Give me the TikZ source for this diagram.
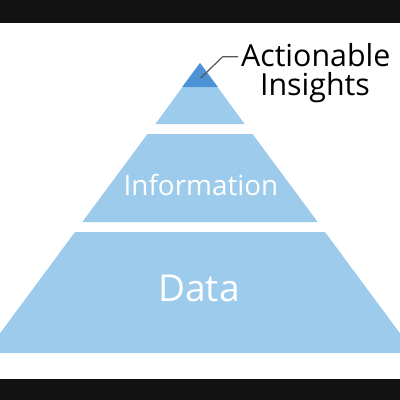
\documentclass[tikz,border=0pt]{standalone}
\usepackage{fontspec}
\setmainfont{Open Sans}
\usetikzlibrary{positioning,calc}

\definecolor{tierblue}{RGB}{157,203,235}
\definecolor{tipblue}{RGB}{76,146,212}
\definecolor{leadergray}{RGB}{85,85,85}

\begin{document}
\begin{tikzpicture}[
		x=0.25mm, y=-0.25mm,
		tier/.style={fill=tierblue},
		tip_tier/.style={fill=tipblue},
		bar/.style={fill=black!93},
		tier_label/.style={text=white, inner sep=0pt, anchor=base},
		callout/.style={text=black, inner sep=0pt, font=\fontsize{21.6}{24}\selectfont},
		leader/.style={draw=leadergray, line width=0.3mm}
		]
		
		\useasboundingbox (0,0) rectangle (400,400);
		
		% --- FRAME (black bars top and bottom) ---
		\fill[bar] (0,0) rectangle (400,23);
		\fill[bar] (0,379) rectangle (400,400);
		
		% --- PYRAMID TIERS (apex at 200,63, half width 0.74 per px of height) ---
		\begin{scope}
			\clip (0,23) rectangle (400,379);
			% 1. Top tier with dark tip
			\fill[tier] (200,63) -- (155.4,124) -- (244.6,124) -- cycle;
			\fill[tip_tier] (200,63) -- (182.2,87) -- (217.8,87) -- cycle;
			% 2. Middle tier
			\fill[tier] (147.5,134) -- (252.5,134) -- (317.7,222) -- (82.3,222) -- cycle;
			% 3. Bottom tier
			\fill[tier] (75,232) -- (325,232) -- (414.5,353) -- (-14.5,353) -- cycle;
		\end{scope}
		
		% --- LABELS ---
		\node[tier_label, font=\fontsize{19.8}{24}\selectfont] (info) at (201,195) {Information};
		\node[tier_label, font=\fontsize{26.4}{30}\selectfont] (data) at (199,301) {Data};
		
		\node[callout, anchor=base west, inner xsep=2pt] (act) at (238,66.7) {Actionable};
		\node[callout, anchor=base] (ins) at (315,95) {Insights};
		
		% --- LEADER LINE ---
		\coordinate (tip) at (200.7,78);
		\coordinate (bend) at (222.7,56.7);
		\draw[leader] (tip) -- (bend) -- (bend -| act.west);
		
	\end{tikzpicture}
\end{document}
